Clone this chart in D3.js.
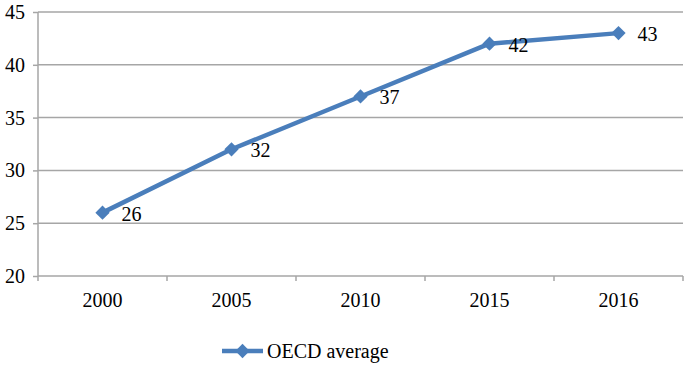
<!DOCTYPE html>
<html>
<head>
<meta charset="utf-8">
<script src="https://cdn.jsdelivr.net/npm/d3@7"></script>
<style>
  body { margin: 0; background: #fff; }
</style>
</head>
<body>
<div id="chart"></div>
<script>
// Data
const years = ["2000", "2005", "2010", "2015", "2016"];
const oecdAverage = [26, 32, 37, 42, 43];
const yTicks = [20, 25, 30, 35, 40, 45];
const seriesName = "OECD average";

const W = 685, H = 366;
const plotLeft = 38, plotRight = 683, plotTop = 12, plotBottom = 276;
const blue = "#4a7ebb";
const grey = "#a6a6a6";
const serif = "'Liberation Serif', 'Times New Roman', Times, serif";

const svg = d3.select("#chart").append("svg")
    .attr("width", W)
    .attr("height", H)
    .style("font-family", serif);

const x = d3.scaleBand()
    .domain(years)
    .range([plotLeft, plotRight]);

const y = d3.scaleLinear()
    .domain([20, 45])
    .range([plotBottom, plotTop]);

// y labels + small outward ticks
const yAxis = svg.append("g")
    .attr("transform", "translate(" + plotLeft + ",0)")
    .call(d3.axisLeft(y).tickValues(yTicks).tickSize(5).tickPadding(8).tickFormat(d3.format("d")));
yAxis.attr("font-family", null).attr("font-size", null);
yAxis.select(".domain").remove();
yAxis.selectAll(".tick line").attr("stroke", grey).attr("stroke-width", 1.5);
yAxis.selectAll(".tick text")
    .attr("fill", "#000")
    .style("font-size", "20px")
    .style("font-family", serif);

// horizontal grid lines
svg.append("g")
    .selectAll("line")
    .data(yTicks)
    .join("line")
    .attr("x1", plotLeft)
    .attr("x2", plotRight)
    .attr("y1", d => y(d))
    .attr("y2", d => y(d))
    .attr("stroke", grey)
    .attr("stroke-width", 1.5);

// y axis line
svg.append("line")
    .attr("x1", plotLeft).attr("x2", plotLeft)
    .attr("y1", plotTop).attr("y2", plotBottom + 5)
    .attr("stroke", grey).attr("stroke-width", 1.5);

// x axis: ticks at band boundaries
const bounds = years.map(d => x(d) + x.bandwidth());
svg.append("g")
    .selectAll("line")
    .data(bounds)
    .join("line")
    .attr("x1", d => d).attr("x2", d => d)
    .attr("y1", plotBottom).attr("y2", plotBottom + 5)
    .attr("stroke", grey).attr("stroke-width", 1.5);

svg.append("g")
    .selectAll("text")
    .data(years)
    .join("text")
    .attr("x", d => x(d) + x.bandwidth() / 2)
    .attr("y", plotBottom + 31)
    .attr("text-anchor", "middle")
    .style("font-family", serif)
    .style("font-size", "20px")
    .text(d => d);

// line
const pts = years.map((d, i) => ({ year: d, value: oecdAverage[i] }));
const cx = d => x(d.year) + x.bandwidth() / 2;

svg.append("path")
    .datum(pts)
    .attr("fill", "none")
    .attr("stroke", blue)
    .attr("stroke-width", 4.5)
    .attr("stroke-linejoin", "round")
    .attr("d", d3.line().x(cx).y(d => y(d.value)));

const diamond = d3.symbol().type(d3.symbolDiamond2).size(130);

svg.append("g")
    .selectAll("path")
    .data(pts)
    .join("path")
    .attr("transform", d => "translate(" + cx(d) + "," + y(d.value) + ")")
    .attr("d", diamond)
    .attr("fill", blue);

// data labels
svg.append("g")
    .selectAll("text")
    .data(pts)
    .join("text")
    .attr("x", d => cx(d) + 19)
    .attr("y", d => y(d.value) + 8)
    .style("font-family", serif)
    .style("font-size", "20px")
    .text(d => d.value);

// legend
const ly = 351;
svg.append("line")
    .attr("x1", 222).attr("x2", 263)
    .attr("y1", ly).attr("y2", ly)
    .attr("stroke", blue).attr("stroke-width", 4.5);
svg.append("path")
    .attr("transform", "translate(242.5," + ly + ")")
    .attr("d", diamond)
    .attr("fill", blue);
svg.append("text")
    .attr("x", 267)
    .attr("y", ly + 7)
    .style("font-family", serif)
    .style("font-size", "20px")
    .text(seriesName);
</script>
</body>
</html>
